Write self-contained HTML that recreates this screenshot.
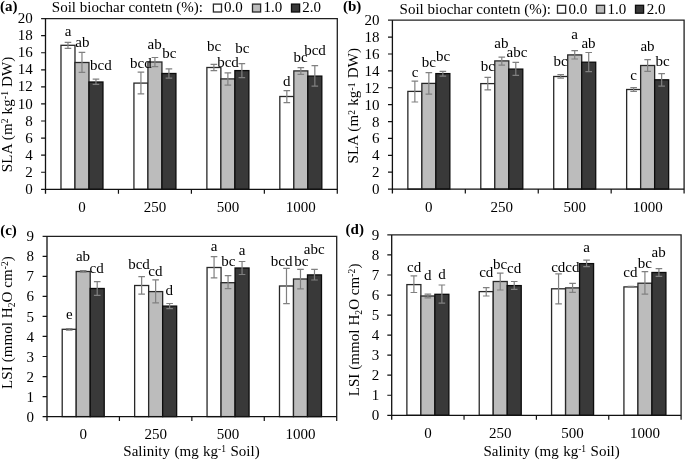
<!DOCTYPE html>
<html lang="en"><head><meta charset="utf-8"><title>Soil biochar and salinity: SLA and LSI</title>
<style>html,body{margin:0;padding:0;background:#fff}svg{display:block}text{font-family:"Liberation Serif", "Times New Roman", serif;font-size:15px;fill:#000}</style></head><body>
<svg width="685" height="460" viewBox="0 0 685 460">
<rect x="0" y="0" width="685" height="460" fill="#fff"/>
<g id="chart-a">
<rect x="60.98" y="45.3" width="14" height="144" fill="#ffffff" stroke="#282828" stroke-width="1.3"/>
<rect x="74.97" y="62.5" width="14" height="126.8" fill="#bcbcbc" stroke="#282828" stroke-width="1.3"/>
<rect x="88.97" y="82" width="14" height="107.3" fill="#393939" stroke="#0c0c0c" stroke-width="1.3"/>
<rect x="133.93" y="83.1" width="14" height="106.2" fill="#ffffff" stroke="#282828" stroke-width="1.3"/>
<rect x="147.93" y="62" width="14" height="127.3" fill="#bcbcbc" stroke="#282828" stroke-width="1.3"/>
<rect x="161.93" y="73.5" width="14" height="115.8" fill="#393939" stroke="#0c0c0c" stroke-width="1.3"/>
<rect x="206.88" y="67.5" width="14" height="121.8" fill="#ffffff" stroke="#282828" stroke-width="1.3"/>
<rect x="220.88" y="78.9" width="14" height="110.4" fill="#bcbcbc" stroke="#282828" stroke-width="1.3"/>
<rect x="234.88" y="70.6" width="14" height="118.7" fill="#393939" stroke="#0c0c0c" stroke-width="1.3"/>
<rect x="279.83" y="96.5" width="14" height="92.8" fill="#ffffff" stroke="#282828" stroke-width="1.3"/>
<rect x="293.83" y="70.9" width="14" height="118.4" fill="#bcbcbc" stroke="#282828" stroke-width="1.3"/>
<rect x="307.83" y="76.1" width="14" height="113.2" fill="#393939" stroke="#0c0c0c" stroke-width="1.3"/>
<path d="M67.97 42.4V48.3M64.67 42.4H71.27M64.67 48.3H71.27" stroke="#808080" stroke-width="1.2" fill="none"/>
<path d="M81.97 52.4V72.3M78.67 52.4H85.27M78.67 72.3H85.27" stroke="#808080" stroke-width="1.2" fill="none"/>
<path d="M95.97 79.2V84.4M92.67 79.2H99.27M92.67 84.4H99.27" stroke="#808080" stroke-width="1.2" fill="none"/>
<path d="M140.93 72.2V93.8M137.62 72.2H144.23M137.62 93.8H144.23" stroke="#808080" stroke-width="1.2" fill="none"/>
<path d="M154.93 57.5V66.6M151.62 57.5H158.23M151.62 66.6H158.23" stroke="#808080" stroke-width="1.2" fill="none"/>
<path d="M168.93 68.8V78.1M165.62 68.8H172.23M165.62 78.1H172.23" stroke="#808080" stroke-width="1.2" fill="none"/>
<path d="M213.88 64.3V70.7M210.57 64.3H217.18M210.57 70.7H217.18" stroke="#808080" stroke-width="1.2" fill="none"/>
<path d="M227.88 72.9V85.1M224.57 72.9H231.18M224.57 85.1H231.18" stroke="#808080" stroke-width="1.2" fill="none"/>
<path d="M241.88 63.7V77.7M238.57 63.7H245.18M238.57 77.7H245.18" stroke="#808080" stroke-width="1.2" fill="none"/>
<path d="M286.83 90.6V102.7M283.53 90.6H290.13M283.53 102.7H290.13" stroke="#808080" stroke-width="1.2" fill="none"/>
<path d="M300.83 67.7V74.3M297.53 67.7H304.13M297.53 74.3H304.13" stroke="#808080" stroke-width="1.2" fill="none"/>
<path d="M314.83 65.6V86.2M311.53 65.6H318.13M311.53 86.2H318.13" stroke="#808080" stroke-width="1.2" fill="none"/>
<path d="M41.1 18.6H337.3V193.7" stroke="#202020" stroke-width="1.3" fill="none"/>
<path d="M45.5 18.6V193.7M41.1 189.3H337.3" stroke="#111" stroke-width="1.3" fill="none"/>
<text x="32.7" y="193.9" text-anchor="end">0</text>
<text x="32.7" y="176.83" text-anchor="end">2</text>
<text x="32.7" y="159.76" text-anchor="end">4</text>
<text x="32.7" y="142.69" text-anchor="end">6</text>
<text x="32.7" y="125.62" text-anchor="end">8</text>
<text x="32.7" y="108.55" text-anchor="end">10</text>
<text x="32.7" y="91.48" text-anchor="end">12</text>
<text x="32.7" y="74.41" text-anchor="end">14</text>
<text x="32.7" y="57.34" text-anchor="end">16</text>
<text x="32.7" y="40.27" text-anchor="end">18</text>
<text x="32.7" y="23.2" text-anchor="end">20</text>
<path d="M41.1 172.23H45.5M41.1 155.16H45.5M41.1 138.09H45.5M41.1 121.02H45.5M41.1 103.95H45.5M41.1 86.88H45.5M41.1 69.81H45.5M41.1 52.74H45.5M41.1 35.67H45.5M118.45 189.3V193.7M191.4 189.3V193.7M264.35 189.3V193.7" stroke="#111" stroke-width="1.2" fill="none"/>
<text x="81.97" y="212" text-anchor="middle">0</text>
<text x="154.93" y="212" text-anchor="middle">250</text>
<text x="227.88" y="212" text-anchor="middle">500</text>
<text x="300.83" y="212" text-anchor="middle">1000</text>
<text x="68.2" y="35.7" text-anchor="middle">a</text>
<text x="82.4" y="46.8" text-anchor="middle">ab</text>
<text x="100.9" y="70.2" text-anchor="middle">bcd</text>
<text x="140.9" y="68.2" text-anchor="middle">bcd</text>
<text x="154.7" y="49.4" text-anchor="middle">ab</text>
<text x="169.3" y="57.9" text-anchor="middle">bc</text>
<text x="214" y="50.8" text-anchor="middle">bc</text>
<text x="228" y="67.2" text-anchor="middle">bcd</text>
<text x="242.3" y="52.8" text-anchor="middle">bc</text>
<text x="286.8" y="86" text-anchor="middle">d</text>
<text x="300.7" y="62.4" text-anchor="middle">bc</text>
<text x="315" y="54.9" text-anchor="middle">bcd</text>
<text x="0.1" y="11.2" font-weight="bold" font-size="14.4">(a)</text>
<text transform="translate(11.6 114.3) rotate(-90)" text-anchor="middle" letter-spacing="0.16">SLA (m<tspan font-size="9.5" dy="-3.9">2</tspan><tspan dy="3.9"> kg</tspan><tspan font-size="9.5" dy="-3.9">-1</tspan><tspan dy="3.9"> DW)</tspan></text>
<text x="51.8" y="12.4">Soil biochar contetn (%):</text>
<rect x="213.4" y="4.1" width="8.1" height="7.9" fill="#ffffff" stroke="#282828" stroke-width="1.3"/>
<text x="224" y="12.4">0.0</text>
<rect x="252.5" y="4.1" width="8.1" height="7.9" fill="#bcbcbc" stroke="#282828" stroke-width="1.3"/>
<text x="263.5" y="12.4">1.0</text>
<rect x="291.5" y="4.1" width="8.1" height="7.9" fill="#393939" stroke="#0c0c0c" stroke-width="1.3"/>
<text x="302.3" y="12.4">2.0</text>
</g>
<g id="chart-b">
<rect x="407.86" y="91.4" width="14" height="97.7" fill="#ffffff" stroke="#282828" stroke-width="1.3"/>
<rect x="421.86" y="83.4" width="14" height="105.7" fill="#bcbcbc" stroke="#282828" stroke-width="1.3"/>
<rect x="435.86" y="73.6" width="14" height="115.5" fill="#393939" stroke="#0c0c0c" stroke-width="1.3"/>
<rect x="480.79" y="83.6" width="14" height="105.5" fill="#ffffff" stroke="#282828" stroke-width="1.3"/>
<rect x="494.79" y="60.9" width="14" height="128.2" fill="#bcbcbc" stroke="#282828" stroke-width="1.3"/>
<rect x="508.79" y="69.1" width="14" height="120" fill="#393939" stroke="#0c0c0c" stroke-width="1.3"/>
<rect x="553.71" y="76.5" width="14" height="112.6" fill="#ffffff" stroke="#282828" stroke-width="1.3"/>
<rect x="567.71" y="54.9" width="14" height="134.2" fill="#bcbcbc" stroke="#282828" stroke-width="1.3"/>
<rect x="581.71" y="62.2" width="14" height="126.9" fill="#393939" stroke="#0c0c0c" stroke-width="1.3"/>
<rect x="626.64" y="89.5" width="14" height="99.6" fill="#ffffff" stroke="#282828" stroke-width="1.3"/>
<rect x="640.64" y="65.5" width="14" height="123.6" fill="#bcbcbc" stroke="#282828" stroke-width="1.3"/>
<rect x="654.64" y="79.8" width="14" height="109.3" fill="#393939" stroke="#0c0c0c" stroke-width="1.3"/>
<path d="M414.86 81.1V102M411.56 81.1H418.16M411.56 102H418.16" stroke="#808080" stroke-width="1.2" fill="none"/>
<path d="M428.86 72.7V94.1M425.56 72.7H432.16M425.56 94.1H432.16" stroke="#808080" stroke-width="1.2" fill="none"/>
<path d="M442.86 71.4V76.1M439.56 71.4H446.16M439.56 76.1H446.16" stroke="#808080" stroke-width="1.2" fill="none"/>
<path d="M487.79 77.3V89.9M484.49 77.3H491.09M484.49 89.9H491.09" stroke="#808080" stroke-width="1.2" fill="none"/>
<path d="M501.79 57.1V65.1M498.49 57.1H505.09M498.49 65.1H505.09" stroke="#808080" stroke-width="1.2" fill="none"/>
<path d="M515.79 62.4V75.4M512.49 62.4H519.09M512.49 75.4H519.09" stroke="#808080" stroke-width="1.2" fill="none"/>
<path d="M560.71 74.6V78.2M557.41 74.6H564.01M557.41 78.2H564.01" stroke="#808080" stroke-width="1.2" fill="none"/>
<path d="M574.71 50.6V59M571.41 50.6H578.01M571.41 59H578.01" stroke="#808080" stroke-width="1.2" fill="none"/>
<path d="M588.71 52.5V71.7M585.41 52.5H592.01M585.41 71.7H592.01" stroke="#808080" stroke-width="1.2" fill="none"/>
<path d="M633.64 87.7V91.3M630.34 87.7H636.94M630.34 91.3H636.94" stroke="#808080" stroke-width="1.2" fill="none"/>
<path d="M647.64 59.6V71.3M644.34 59.6H650.94M644.34 71.3H650.94" stroke="#808080" stroke-width="1.2" fill="none"/>
<path d="M661.64 73.7V86.1M658.34 73.7H664.94M658.34 86.1H664.94" stroke="#808080" stroke-width="1.2" fill="none"/>
<path d="M388 20.2H684.1V193.5" stroke="#202020" stroke-width="1.3" fill="none"/>
<path d="M392.4 20.2V193.5M388 189.1H684.1" stroke="#111" stroke-width="1.3" fill="none"/>
<text x="379.6" y="194.1" text-anchor="end">0</text>
<text x="379.6" y="177.21" text-anchor="end">2</text>
<text x="379.6" y="160.32" text-anchor="end">4</text>
<text x="379.6" y="143.43" text-anchor="end">6</text>
<text x="379.6" y="126.54" text-anchor="end">8</text>
<text x="379.6" y="109.65" text-anchor="end">10</text>
<text x="379.6" y="92.76" text-anchor="end">12</text>
<text x="379.6" y="75.87" text-anchor="end">14</text>
<text x="379.6" y="58.98" text-anchor="end">16</text>
<text x="379.6" y="42.09" text-anchor="end">18</text>
<text x="379.6" y="25.2" text-anchor="end">20</text>
<path d="M388 172.21H392.4M388 155.32H392.4M388 138.43H392.4M388 121.54H392.4M388 104.65H392.4M388 87.76H392.4M388 70.87H392.4M388 53.98H392.4M388 37.09H392.4M465.32 189.1V193.5M538.25 189.1V193.5M611.17 189.1V193.5" stroke="#111" stroke-width="1.2" fill="none"/>
<text x="428.86" y="211.7" text-anchor="middle">0</text>
<text x="501.79" y="211.7" text-anchor="middle">250</text>
<text x="574.71" y="211.7" text-anchor="middle">500</text>
<text x="647.64" y="211.7" text-anchor="middle">1000</text>
<text x="415" y="76.9" text-anchor="middle">c</text>
<text x="428.9" y="67.4" text-anchor="middle">bc</text>
<text x="443" y="60.7" text-anchor="middle">bc</text>
<text x="487.8" y="71" text-anchor="middle">bc</text>
<text x="501.4" y="48.1" text-anchor="middle">ab</text>
<text x="516.9" y="56.6" text-anchor="middle">abc</text>
<text x="560.7" y="66" text-anchor="middle">bc</text>
<text x="574.7" y="39.3" text-anchor="middle">a</text>
<text x="588.5" y="47.8" text-anchor="middle">ab</text>
<text x="633.5" y="79.5" text-anchor="middle">c</text>
<text x="647.5" y="51.2" text-anchor="middle">ab</text>
<text x="662.7" y="66.3" text-anchor="middle">bc</text>
<text x="342.9" y="10.9" font-weight="bold" font-size="14.4">(b)</text>
<text transform="translate(358.4 105.7) rotate(-90)" text-anchor="middle" letter-spacing="0.16">SLA (m<tspan font-size="9.5" dy="-3.9">2</tspan><tspan dy="3.9"> kg</tspan><tspan font-size="9.5" dy="-3.9">-1</tspan><tspan dy="3.9"> DW)</tspan></text>
<text x="399.6" y="13.5">Soil biochar contetn (%):</text>
<rect x="557.5" y="5.3" width="8.1" height="7.9" fill="#ffffff" stroke="#282828" stroke-width="1.3"/>
<text x="568.4" y="13.5">0.0</text>
<rect x="596.5" y="5.3" width="8.1" height="7.9" fill="#bcbcbc" stroke="#282828" stroke-width="1.3"/>
<text x="607.6" y="13.5">1.0</text>
<rect x="635.5" y="5.3" width="8.1" height="7.9" fill="#393939" stroke="#0c0c0c" stroke-width="1.3"/>
<text x="646.7" y="13.5">2.0</text>
</g>
<g id="chart-c">
<rect x="62.21" y="329.3" width="14" height="87.3" fill="#ffffff" stroke="#282828" stroke-width="1.3"/>
<rect x="76.21" y="271.5" width="14" height="145.1" fill="#bcbcbc" stroke="#282828" stroke-width="1.3"/>
<rect x="90.21" y="288.5" width="14" height="128.1" fill="#393939" stroke="#0c0c0c" stroke-width="1.3"/>
<rect x="134.64" y="285.5" width="14" height="131.1" fill="#ffffff" stroke="#282828" stroke-width="1.3"/>
<rect x="148.64" y="291.6" width="14" height="125" fill="#bcbcbc" stroke="#282828" stroke-width="1.3"/>
<rect x="162.64" y="306.1" width="14" height="110.5" fill="#393939" stroke="#0c0c0c" stroke-width="1.3"/>
<rect x="207.06" y="267.5" width="14" height="149.1" fill="#ffffff" stroke="#282828" stroke-width="1.3"/>
<rect x="221.06" y="282.7" width="14" height="133.9" fill="#bcbcbc" stroke="#282828" stroke-width="1.3"/>
<rect x="235.06" y="268" width="14" height="148.6" fill="#393939" stroke="#0c0c0c" stroke-width="1.3"/>
<rect x="279.49" y="286" width="14" height="130.6" fill="#ffffff" stroke="#282828" stroke-width="1.3"/>
<rect x="293.49" y="279" width="14" height="137.6" fill="#bcbcbc" stroke="#282828" stroke-width="1.3"/>
<rect x="307.49" y="274.9" width="14" height="141.7" fill="#393939" stroke="#0c0c0c" stroke-width="1.3"/>
<path d="M69.21 328.5V330.2M65.91 328.5H72.51M65.91 330.2H72.51" stroke="#808080" stroke-width="1.2" fill="none"/>
<path d="M83.21 270.7V272.2M79.91 270.7H86.51M79.91 272.2H86.51" stroke="#808080" stroke-width="1.2" fill="none"/>
<path d="M97.21 281.6V295.4M93.91 281.6H100.51M93.91 295.4H100.51" stroke="#808080" stroke-width="1.2" fill="none"/>
<path d="M141.64 276.7V294.1M138.34 276.7H144.94M138.34 294.1H144.94" stroke="#808080" stroke-width="1.2" fill="none"/>
<path d="M155.64 279.8V302.9M152.34 279.8H158.94M152.34 302.9H158.94" stroke="#808080" stroke-width="1.2" fill="none"/>
<path d="M169.64 303.5V308.6M166.34 303.5H172.94M166.34 308.6H172.94" stroke="#808080" stroke-width="1.2" fill="none"/>
<path d="M214.06 256.7V277.9M210.76 256.7H217.36M210.76 277.9H217.36" stroke="#808080" stroke-width="1.2" fill="none"/>
<path d="M228.06 275.6V288.6M224.76 275.6H231.36M224.76 288.6H231.36" stroke="#808080" stroke-width="1.2" fill="none"/>
<path d="M242.06 261.5V274.5M238.76 261.5H245.36M238.76 274.5H245.36" stroke="#808080" stroke-width="1.2" fill="none"/>
<path d="M286.49 268.3V303.7M283.19 268.3H289.79M283.19 303.7H289.79" stroke="#808080" stroke-width="1.2" fill="none"/>
<path d="M300.49 269.3V288.9M297.19 269.3H303.79M297.19 288.9H303.79" stroke="#808080" stroke-width="1.2" fill="none"/>
<path d="M314.49 269.3V280M311.19 269.3H317.79M311.19 280H317.79" stroke="#808080" stroke-width="1.2" fill="none"/>
<path d="M42.6 236.3H336.7V421" stroke="#202020" stroke-width="1.3" fill="none"/>
<path d="M47 236.3V421M42.6 416.6H336.7" stroke="#111" stroke-width="1.3" fill="none"/>
<text x="34" y="422.2" text-anchor="end">0</text>
<text x="34" y="402.07" text-anchor="end">1</text>
<text x="34" y="381.93" text-anchor="end">2</text>
<text x="34" y="361.8" text-anchor="end">3</text>
<text x="34" y="341.67" text-anchor="end">4</text>
<text x="34" y="321.53" text-anchor="end">5</text>
<text x="34" y="301.4" text-anchor="end">6</text>
<text x="34" y="281.27" text-anchor="end">7</text>
<text x="34" y="261.13" text-anchor="end">8</text>
<text x="34" y="241" text-anchor="end">9</text>
<path d="M42.6 396.57H47M42.6 376.53H47M42.6 356.5H47M42.6 336.47H47M42.6 316.43H47M42.6 296.4H47M42.6 276.37H47M42.6 256.33H47M119.42 416.6V421M191.85 416.6V421M264.27 416.6V421" stroke="#111" stroke-width="1.2" fill="none"/>
<text x="83.21" y="439.2" text-anchor="middle">0</text>
<text x="155.64" y="439.2" text-anchor="middle">250</text>
<text x="228.06" y="439.2" text-anchor="middle">500</text>
<text x="300.49" y="439.2" text-anchor="middle">1000</text>
<text x="69.3" y="319.4" text-anchor="middle">e</text>
<text x="83" y="260.8" text-anchor="middle">ab</text>
<text x="96.7" y="273.4" text-anchor="middle">cd</text>
<text x="139" y="268.6" text-anchor="middle">bcd</text>
<text x="155.4" y="276.2" text-anchor="middle">cd</text>
<text x="169.3" y="295.1" text-anchor="middle">d</text>
<text x="214" y="250.5" text-anchor="middle">a</text>
<text x="228.3" y="266" text-anchor="middle">bc</text>
<text x="242" y="254.9" text-anchor="middle">a</text>
<text x="281.6" y="265.8" text-anchor="middle">bcd</text>
<text x="301.4" y="265.6" text-anchor="middle">bc</text>
<text x="314.2" y="254" text-anchor="middle">abc</text>
<text x="0.2" y="235" font-weight="bold" font-size="14.4">(c)</text>
<text transform="translate(11.6 322.5) rotate(-90)" text-anchor="middle" letter-spacing="0.07">LSI (mmol H<tspan font-size="9.5" dy="3.4">2</tspan><tspan dy="-3.4">O cm</tspan><tspan font-size="9.5" dy="-3.4">-2</tspan><tspan dy="3.4">)</tspan></text>
<text x="191.5" y="456.1" text-anchor="middle" word-spacing="0.7">Salinity (mg kg<tspan font-size="9.5" dy="-4.3">-1</tspan><tspan dy="4.3"> Soil)</tspan></text>
</g>
<g id="chart-d">
<rect x="406.88" y="284.6" width="14" height="130.7" fill="#ffffff" stroke="#282828" stroke-width="1.3"/>
<rect x="420.88" y="296" width="14" height="119.3" fill="#bcbcbc" stroke="#282828" stroke-width="1.3"/>
<rect x="434.88" y="294.3" width="14" height="121" fill="#393939" stroke="#0c0c0c" stroke-width="1.3"/>
<rect x="479.23" y="291.6" width="14" height="123.7" fill="#ffffff" stroke="#282828" stroke-width="1.3"/>
<rect x="493.23" y="281.5" width="14" height="133.8" fill="#bcbcbc" stroke="#282828" stroke-width="1.3"/>
<rect x="507.23" y="285.6" width="14" height="129.7" fill="#393939" stroke="#0c0c0c" stroke-width="1.3"/>
<rect x="551.57" y="288.8" width="14" height="126.5" fill="#ffffff" stroke="#282828" stroke-width="1.3"/>
<rect x="565.57" y="287.9" width="14" height="127.4" fill="#bcbcbc" stroke="#282828" stroke-width="1.3"/>
<rect x="579.57" y="263.6" width="14" height="151.7" fill="#393939" stroke="#0c0c0c" stroke-width="1.3"/>
<rect x="623.92" y="286.9" width="14" height="128.4" fill="#ffffff" stroke="#282828" stroke-width="1.3"/>
<rect x="637.92" y="283.2" width="14" height="132.1" fill="#bcbcbc" stroke="#282828" stroke-width="1.3"/>
<rect x="651.92" y="272.5" width="14" height="142.8" fill="#393939" stroke="#0c0c0c" stroke-width="1.3"/>
<path d="M413.88 275.8V292.5M410.57 275.8H417.18M410.57 292.5H417.18" stroke="#808080" stroke-width="1.2" fill="none"/>
<path d="M427.88 294.1V297.9M424.57 294.1H431.18M424.57 297.9H431.18" stroke="#808080" stroke-width="1.2" fill="none"/>
<path d="M441.88 285V303.2M438.57 285H445.18M438.57 303.2H445.18" stroke="#808080" stroke-width="1.2" fill="none"/>
<path d="M486.23 287.6V296M482.93 287.6H489.53M482.93 296H489.53" stroke="#808080" stroke-width="1.2" fill="none"/>
<path d="M500.23 273.1V290M496.93 273.1H503.53M496.93 290H503.53" stroke="#808080" stroke-width="1.2" fill="none"/>
<path d="M514.23 281.5V289.3M510.93 281.5H517.52M510.93 289.3H517.52" stroke="#808080" stroke-width="1.2" fill="none"/>
<path d="M558.57 273.8V303.8M555.27 273.8H561.87M555.27 303.8H561.87" stroke="#808080" stroke-width="1.2" fill="none"/>
<path d="M572.57 283.3V292.3M569.27 283.3H575.87M569.27 292.3H575.87" stroke="#808080" stroke-width="1.2" fill="none"/>
<path d="M586.57 260.2V266.7M583.27 260.2H589.87M583.27 266.7H589.87" stroke="#808080" stroke-width="1.2" fill="none"/>
<path d="M630.92 286.3V287.5M627.62 286.3H634.22M627.62 287.5H634.22" stroke="#808080" stroke-width="1.2" fill="none"/>
<path d="M644.92 271.7V294.2M641.62 271.7H648.22M641.62 294.2H648.22" stroke="#808080" stroke-width="1.2" fill="none"/>
<path d="M658.92 268.6V276.3M655.62 268.6H662.22M655.62 276.3H662.22" stroke="#808080" stroke-width="1.2" fill="none"/>
<path d="M387.3 234.9H681.1V419.7" stroke="#202020" stroke-width="1.3" fill="none"/>
<path d="M391.7 234.9V419.7M387.3 415.3H681.1" stroke="#111" stroke-width="1.3" fill="none"/>
<text x="379.3" y="420.3" text-anchor="end">0</text>
<text x="379.3" y="400.26" text-anchor="end">1</text>
<text x="379.3" y="380.21" text-anchor="end">2</text>
<text x="379.3" y="360.17" text-anchor="end">3</text>
<text x="379.3" y="340.12" text-anchor="end">4</text>
<text x="379.3" y="320.08" text-anchor="end">5</text>
<text x="379.3" y="300.03" text-anchor="end">6</text>
<text x="379.3" y="279.99" text-anchor="end">7</text>
<text x="379.3" y="259.94" text-anchor="end">8</text>
<text x="379.3" y="239.9" text-anchor="end">9</text>
<path d="M387.3 395.26H391.7M387.3 375.21H391.7M387.3 355.17H391.7M387.3 335.12H391.7M387.3 315.08H391.7M387.3 295.03H391.7M387.3 274.99H391.7M387.3 254.94H391.7M464.05 415.3V419.7M536.4 415.3V419.7M608.75 415.3V419.7" stroke="#111" stroke-width="1.2" fill="none"/>
<text x="427.88" y="438.2" text-anchor="middle">0</text>
<text x="500.23" y="438.2" text-anchor="middle">250</text>
<text x="572.58" y="438.2" text-anchor="middle">500</text>
<text x="644.92" y="438.2" text-anchor="middle">1000</text>
<text x="414.1" y="272" text-anchor="middle">cd</text>
<text x="427.7" y="279.6" text-anchor="middle">d</text>
<text x="441.9" y="279.1" text-anchor="middle">d</text>
<text x="486.3" y="276.9" text-anchor="middle">cd</text>
<text x="500.1" y="268.7" text-anchor="middle">bc</text>
<text x="514.2" y="272.7" text-anchor="middle">cd</text>
<text x="558.3" y="271.7" text-anchor="middle">cd</text>
<text x="572.4" y="271.8" text-anchor="middle">cd</text>
<text x="586.6" y="252" text-anchor="middle">a</text>
<text x="630.4" y="276.7" text-anchor="middle">cd</text>
<text x="644.8" y="267.5" text-anchor="middle">bc</text>
<text x="658.6" y="257" text-anchor="middle">ab</text>
<text x="345.6" y="234.2" font-weight="bold" font-size="14.4">(d)</text>
<text transform="translate(358.7 329.9) rotate(-90)" text-anchor="middle" letter-spacing="0.07">LSI (mmol H<tspan font-size="9.5" dy="3.4">2</tspan><tspan dy="-3.4">O cm</tspan><tspan font-size="9.5" dy="-3.4">-2</tspan><tspan dy="3.4">)</tspan></text>
<text x="551.6" y="456.2" text-anchor="middle" word-spacing="0.7">Salinity (mg kg<tspan font-size="9.5" dy="-4.3">-1</tspan><tspan dy="4.3"> Soil)</tspan></text>
</g>
</svg></body></html>
